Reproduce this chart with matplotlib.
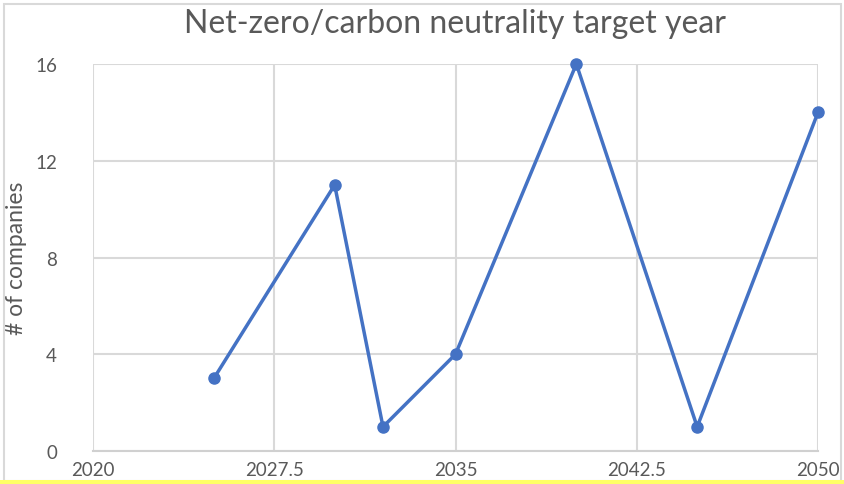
import matplotlib
matplotlib.use("Agg")
import matplotlib.pyplot as plt
from matplotlib.patches import Rectangle

years = [2025, 2030, 2032, 2035, 2040, 2045, 2050]
companies = [3, 11, 1, 4, 16, 1, 14]
xticks = [2020, 2027.5, 2035, 2042.5, 2050]
xticklabels = ["2020", "2027.5", "2035", "2042.5", "2050"]
yticks = [0, 4, 8, 12, 16]

plt.rcParams['font.family'] = ['Lato', 'DejaVu Sans']

fig = plt.figure(figsize=(8.45, 4.85), dpi=100)
ax = fig.add_axes([93/845, 1 - 452/485, (818-93)/845, (452-65)/485])

ax.plot(years, companies, color='#4472C4', linewidth=2.5, marker='o',
        markersize=8, zorder=3, clip_on=False)

ax.set_xlim(2020, 2050)
ax.set_ylim(0, 16)
ax.set_xticks(xticks)
ax.set_xticklabels(xticklabels)
ax.set_yticks(yticks)
ax.grid(True, color='#d9d9d9', linewidth=1.5)
ax.set_axisbelow(True)
for s in ['top', 'right', 'left']:
    ax.spines[s].set_visible(False)
ax.spines['bottom'].set_color('#d0d0d0')
ax.spines['bottom'].set_linewidth(1.5)
ax.tick_params(axis='both', length=0, labelsize=13.5, labelcolor='#595959')
ax.tick_params(axis='y', pad=26)
ax.tick_params(axis='x', pad=7)
ax.set_ylabel('# of companies', fontsize=16.5, color='#595959', va='center')
ax.yaxis.set_label_coords(-76/725, 0.5 + (452 - 258.5 - 193.5) / 387)

fig.text(455/845, 1 - 24/485, 'Net-zero/carbon neutrality target year',
         ha='center', va='center', fontsize=23, color='#595959')

fig.patches.append(Rectangle((4/845, 3/485), 837/845, 477/485, transform=fig.transFigure,
                             fill=False, edgecolor='#d9d9d9', linewidth=1.5))
fig.patches.append(Rectangle((0, 0), 1, 4/485, transform=fig.transFigure,
                             facecolor='#ffff66', edgecolor='none'))

fig.savefig('out.png', dpi=100)
